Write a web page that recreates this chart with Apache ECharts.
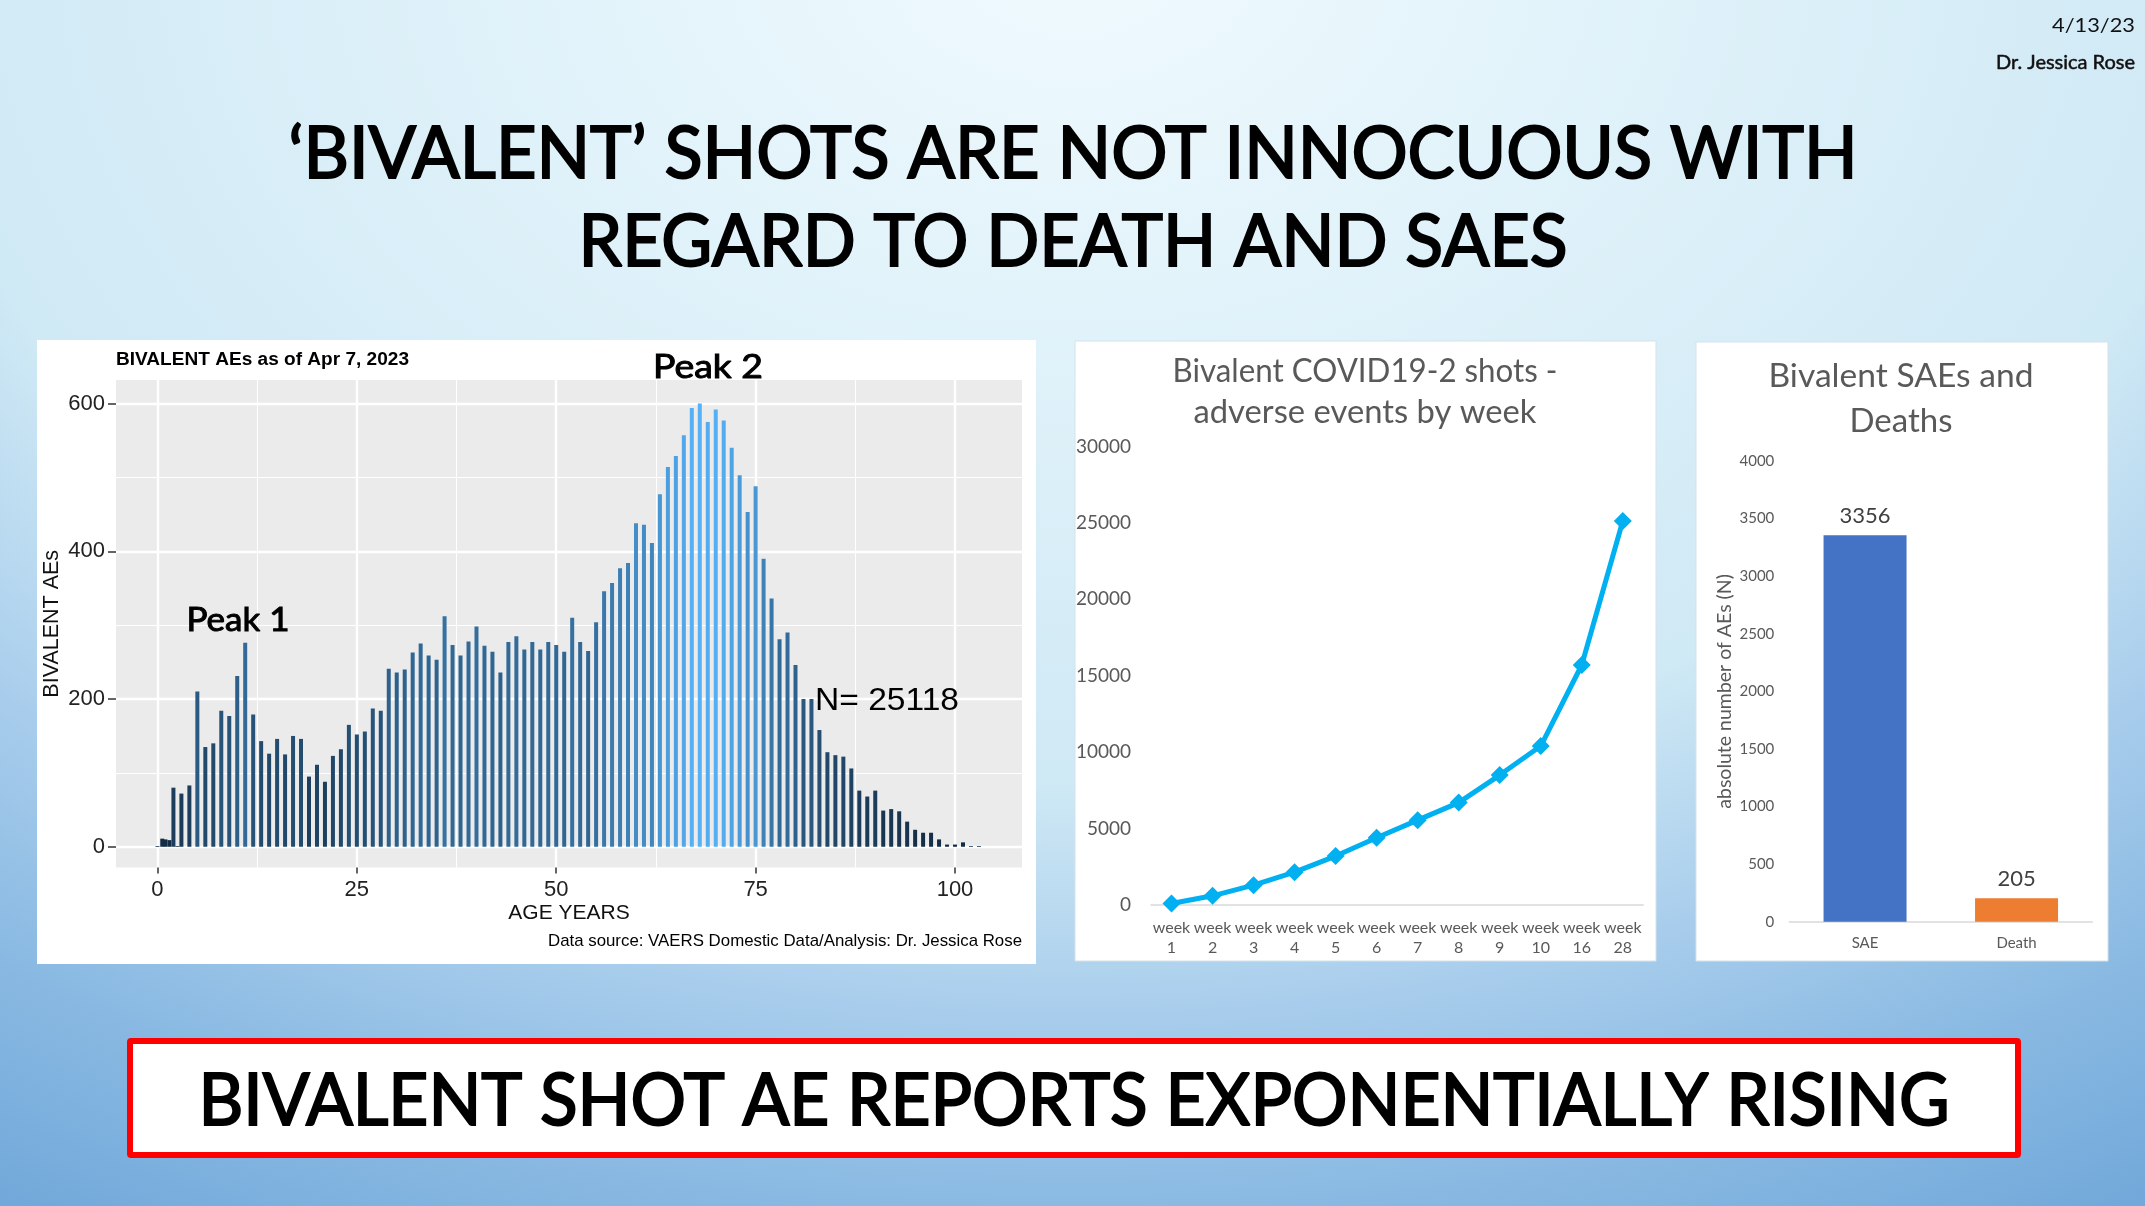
<!DOCTYPE html>
<html>
<head>
<meta charset="utf-8">
<title>Bivalent shots</title>
<script src="https://cdn.jsdelivr.net/npm/echarts@6/dist/echarts.min.js"></script>
<style>
html, body { margin: 0; padding: 0; width: 2145px; height: 1206px; overflow: hidden; }
body { background: radial-gradient(ellipse 2050px 1458px at 50% -4%, #f0fafe 0%, #cfe9f5 57%, #a8cdec 73%, #8cbbe3 85%, #72a9da 100%); }
#main { width: 2145px; height: 1206px; }
</style>
</head>
<body>
<div id="main"></div>
<script>
// left chart: reports by age
var ages = [0, 0.6, 1, 1.5, 2, 2.5, 3, 4, 5, 6, 7, 8, 9, 10, 11, 12, 13, 14, 15, 16, 17, 18, 19, 20,
	21, 22, 23, 24, 25, 26, 27, 28, 29, 30, 31, 32, 33, 34, 35, 36, 37, 38, 39, 40, 41, 42, 43, 44, 45,
	46, 47, 48, 49, 50, 51, 52, 53, 54, 55, 56, 57, 58, 59, 60, 61, 62, 63, 64, 65, 66, 67, 68, 69, 70,
	71, 72, 73, 74, 75, 76, 77, 78, 79, 80, 81, 82, 83, 84, 85, 86, 87, 88, 89, 90, 91, 92, 93, 94, 95,
	96, 97, 98, 99, 100, 101, 102, 103];
var ageCounts = [1, 11, 10, 9, 80, 1, 72, 83, 210, 135, 140, 184, 177, 231, 276, 179, 143, 126, 146, 125, 150, 146, 95, 111,
	88, 123, 132, 165, 152, 156, 187, 184, 241, 236, 240, 263, 275, 259, 253, 312, 273, 259, 278, 298, 272, 264, 236, 277, 285,
	267, 277, 267, 277, 273, 264, 310, 277, 265, 304, 346, 357, 377, 384, 438, 436, 411, 477, 514, 529, 557, 594, 600, 575, 592,
	577, 540, 503, 453, 488, 390, 336, 281, 290, 246, 200, 200, 158, 128, 124, 122, 106, 76, 68, 76, 49, 51, 48, 34, 23,
	19, 19, 10, 3, 3, 6, 1, 1];
var ageTicks = [0, 25, 50, 75, 100];
var ageMinor = [12.5, 37.5, 62.5, 87.5];
var countTicks = [0, 200, 400, 600];
var countMinor = [100, 300, 500];

// middle chart: reports by week
var weeks = ['week 1', 'week 2', 'week 3', 'week 4', 'week 5', 'week 6', 'week 7', 'week 8', 'week 9', 'week 10', 'week 16', 'week 28'];
var weekValues = [100, 600, 1300, 2150, 3200, 4400, 5550, 6700, 8500, 10400, 15700, 25118];

// right chart: totals
var outcomes = ['SAE', 'Death'];
var outcomeValues = [3356, 205];
var outcomeColors = ['#4472C4', '#ED7D31'];

var ctx = document.createElement('canvas').getContext('2d');

// squeeze a text to the width it has in the slide, weight thickens it a little
function label(text, x, y, font, width, align, fill, weight) {
	ctx.font = font;
	var scale = width ? width / ctx.measureText(text).width : 1;
	return {
		type: 'text', x: x, y: y, scaleX: scale, silent: true, z2: 5,
		style: {
			text: text, font: font, fill: fill || '#000', align: align || 'center', verticalAlign: 'middle',
			stroke: weight ? (fill || '#000') : null, lineWidth: weight || 0
		}
	};
}

function panel(x, y, w, h, border) {
	return {
		type: 'rect', z2: -10, silent: true,
		shape: { x: x, y: y, width: w, height: h },
		style: { fill: '#fff', stroke: border, lineWidth: border ? 1 : 0 }
	};
}

// no thousands separator on the Excel axes
function plainNumber(value) {
	return String(value);
}

var heading = '72px Lato';
var excelTitle = '32px Lato';
var excelColor = '#595959';
var ggFont = 'Liberation Sans';

var minorLine = { show: true, lineStyle: { color: '#fff', width: 1 } };
var majorLine = { show: true, lineStyle: { color: '#fff', width: 2.4 } };

var chart = echarts.init(document.getElementById('main'));
chart.setOption({
	animation: false,
	backgroundColor: 'transparent',
	graphic: [
		panel(37, 340, 999, 624),
		panel(1075, 341, 581, 620, '#d5e2ea'),
		panel(1696, 342, 412, 619, '#d5e2ea'),
		{
			type: 'rect', z2: -10, silent: true,
			shape: { x: 130, y: 1041, width: 1888, height: 114, r: 1 },
			style: { fill: '#fff', stroke: '#FF0000', lineWidth: 6 }
		},
		label('‘BIVALENT’ SHOTS ARE NOT INNOCUOUS WITH', 1073, 155, heading, 1569, 'center', '#000', 2),
		label('REGARD TO DEATH AND SAES', 1073, 243, heading, 989, 'center', '#000', 2),
		label('BIVALENT SHOT AE REPORTS EXPONENTIALLY RISING', 1074, 1102, heading, 1751, 'center', '#000', 2),
		label('4/13/23', 2135, 26, '20px Lato', 83, 'right', '#111'),
		label('Dr. Jessica Rose', 2135, 63, '20px Lato', 139, 'right', '#111', 0.5),
		label('BIVALENT AEs as of Apr 7, 2023', 116, 360, 'bold 18px ' + ggFont, 293, 'left'),
		label('Peak 1', 238, 620, '33px Lato', 103, 'center', '#000', 1),
		label('Peak 2', 708, 367, '33px Lato', 110, 'center', '#000', 1),
		label('N= 25118', 815, 701, '31px ' + ggFont, 144, 'left'),
		label('Data source: VAERS Domestic Data/Analysis: Dr. Jessica Rose', 1022, 941, '17px ' + ggFont, 474, 'right'),
		label('Bivalent COVID19-2 shots -', 1365, 372, excelTitle, 385, 'center', excelColor),
		label('adverse events by week', 1365, 413, excelTitle, 343, 'center', excelColor),
		label('Bivalent SAEs and', 1901, 377, excelTitle, 265, 'center', excelColor),
		label('Deaths', 1901, 422, excelTitle, 103, 'center', excelColor)
	],
	grid: [
		{ left: 116, top: 380, width: 906, height: 487.6, show: true, backgroundColor: '#EBEBEB', borderWidth: 0 },
		{ left: 1151, top: 446.4, width: 492.3, height: 458.6 },
		{ left: 1789.3, top: 461, width: 303, height: 460.8 }
	],
	xAxis: [
		{
			type: 'value', gridIndex: 0, min: -5.2, max: 108.4,
			name: 'AGE YEARS', nameLocation: 'middle', nameGap: 35,
			nameTextStyle: { fontFamily: ggFont, fontSize: 21, color: '#111' },
			axisLine: { show: false, onZero: false },
			axisTick: { show: true, length: 6, customValues: ageTicks, lineStyle: { color: '#333', width: 1.5 } },
			axisLabel: { customValues: ageTicks, margin: 11, fontFamily: ggFont, fontSize: 22, color: '#222' },
			splitLine: majorLine
		},
		{
			type: 'value', gridIndex: 0, min: -5.2, max: 108.4,
			axisLine: { show: false, onZero: false },
			axisTick: { show: false, customValues: ageMinor },
			axisLabel: { show: false },
			splitLine: minorLine
		},
		{
			type: 'category', gridIndex: 1, data: weeks,
			axisLine: { lineStyle: { color: '#d9d9d9', width: 1.5 } },
			axisTick: { show: false },
			axisLabel: {
				interval: 0, margin: 13, fontFamily: 'Lato', fontSize: 16, lineHeight: 20, color: excelColor,
				formatter: function (value) {
					return value.replace(' ', '\n');
				}
			}
		},
		{
			type: 'category', gridIndex: 2, data: outcomes,
			axisLine: { lineStyle: { color: '#d9d9d9', width: 1.5 } },
			axisTick: { show: false },
			axisLabel: { margin: 14, fontFamily: 'Lato', fontSize: 15, color: excelColor }
		}
	],
	yAxis: [
		{
			type: 'value', gridIndex: 0, min: -28.2, max: 631.8,
			name: 'BIVALENT AEs', nameLocation: 'middle', nameGap: 53,
			nameTextStyle: { fontFamily: ggFont, fontSize: 21.5, color: '#111' },
			axisLine: { show: false, onZero: false },
			axisTick: { show: true, length: 8, customValues: countTicks, lineStyle: { color: '#333', width: 1.5 } },
			axisLabel: { customValues: countTicks, margin: 11, fontFamily: ggFont, fontSize: 22, color: '#222' },
			splitLine: majorLine
		},
		{
			type: 'value', gridIndex: 0, min: -28.2, max: 631.8,
			axisLine: { show: false, onZero: false },
			axisTick: { show: false, customValues: countMinor },
			axisLabel: { show: false },
			splitLine: minorLine
		},
		{
			type: 'value', gridIndex: 1, min: 0, max: 30000, interval: 5000,
			axisLine: { show: false }, axisTick: { show: false }, splitLine: { show: false },
			axisLabel: { margin: 20, fontFamily: 'Lato', fontSize: 19, color: excelColor, formatter: plainNumber }
		},
		{
			type: 'value', gridIndex: 2, min: 0, max: 4000, interval: 500,
			name: 'absolute number of AEs (N)', nameLocation: 'middle', nameGap: 55,
			nameTextStyle: { fontFamily: 'Lato', fontSize: 19.5, color: excelColor },
			axisLine: { show: false }, axisTick: { show: false }, splitLine: { show: false },
			axisLabel: { margin: 15, fontFamily: 'Lato', fontSize: 15, color: excelColor, formatter: plainNumber }
		}
	],
	visualMap: {
		show: false, type: 'continuous', seriesIndex: 0, dimension: 1, min: 0, max: 600,
		inRange: { color: ['#132B43', '#56B1F7'] }
	},
	series: [
		{
			type: 'bar', xAxisIndex: 0, yAxisIndex: 0, barWidth: 4, z: 2,
			data: ages.map(function (age, i) {
				return [age, ageCounts[i]];
			})
		},
		{
			type: 'line', xAxisIndex: 2, yAxisIndex: 2, data: weekValues,
			symbol: 'diamond', symbolSize: 18,
			itemStyle: { color: '#00B0F0' },
			lineStyle: { color: '#00B0F0', width: 5 }
		},
		{
			type: 'bar', xAxisIndex: 3, yAxisIndex: 3, barWidth: 83,
			data: outcomeValues.map(function (value, i) {
				return { value: value, itemStyle: { color: outcomeColors[i] } };
			}),
			label: { show: true, position: 'top', distance: 8, fontFamily: 'Lato', fontSize: 22, color: '#404040' }
		}
	]
});
</script>
</body>
</html>
